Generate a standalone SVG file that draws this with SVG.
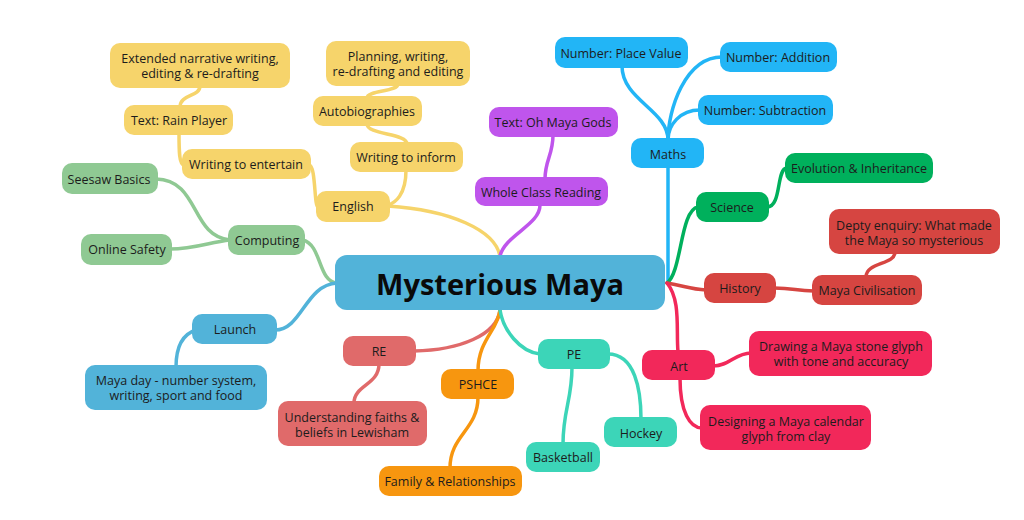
<svg xmlns="http://www.w3.org/2000/svg" width="1024" height="520" viewBox="0 0 1024 520">
<style>
text{font-family:"Open Sans","Noto Sans","Liberation Sans",sans-serif;font-size:12.5px;fill:#1c1c1c;text-anchor:middle;dominant-baseline:central}
.t{font-size:29px;font-weight:bold;fill:#0a0a0a}
#connectors path{fill:none;stroke-width:3.5;stroke-linecap:round}
.y{fill:#f6d46b}.p{fill:#bf55ec}.b{fill:#22b5f6}.g{fill:#00b05c}.r{fill:#d64541}.k{fill:#f2285a}.q{fill:#3cd5b8}.o{fill:#f7960f}.s{fill:#e06a6a}.l{fill:#52b3d9}.c{fill:#8fc993}
</style>
<rect width="1024" height="520" fill="#ffffff"/>
<g id="connectors">
<path d="M388 206 C450 210 495 230 500 256" stroke="#f6d46b"/>
<path d="M540 205 C540 225 505 235 500 256" stroke="#bf55ec"/>
<path d="M303 240 C322 245 318 282 337 283" stroke="#8fc993"/>
<path d="M275 330 C302 330 305 285 337 283" stroke="#52b3d9"/>
<path d="M668 166 L668 283" stroke="#22b5f6"/>
<path d="M698 207 C680 210 682 272 667 283" stroke="#00b05c"/>
<path d="M667 283 C685 286 690 289 706 290" stroke="#d64541"/>
<path d="M667 283 C681 300 676 330 678 352" stroke="#f2285a"/>
<path d="M414 351 C460 350 497 335 500 310" stroke="#e06a6a"/>
<path d="M478 371 C478 340 498 330 500 310" stroke="#f7960f"/>
<path d="M540 354 C520 352 503 330 500 310" stroke="#3cd5b8"/>
<path d="M722 57 C685 57 668 110 668 140" stroke="#22b5f6"/>
<path d="M700 110 C680 110 668 125 668 140" stroke="#22b5f6"/>
<path d="M622 66 C622 100 668 110 668 140" stroke="#22b5f6"/>
<path d="M767 207 C782 207 776 168 787 168" stroke="#00b05c"/>
<path d="M774 288 C795 288 795 291 814 291" stroke="#d64541"/>
<path d="M866 277 C866 262 895 265 895 252" stroke="#d64541"/>
<path d="M713 366 C730 366 735 353 751 353" stroke="#f2285a"/>
<path d="M680 378 C680 412 690 428 702 428" stroke="#f2285a"/>
<path d="M572 367 C572 400 563 410 563 444" stroke="#3cd5b8"/>
<path d="M608 354 C635 354 641 390 641 419" stroke="#3cd5b8"/>
<path d="M478 397 C478 430 450 435 450 468" stroke="#f7960f"/>
<path d="M379 364 C379 385 354 385 354 403" stroke="#e06a6a"/>
<path d="M196 330 C180 335 176 350 176 367" stroke="#52b3d9"/>
<path d="M156 179 C200 180 190 236 230 240" stroke="#8fc993"/>
<path d="M170 249 C195 249 210 242 230 240" stroke="#8fc993"/>
<path d="M309 165 C316 165 314 207 318 207" stroke="#f6d46b"/>
<path d="M406 170 C406 195 395 203 388 205" stroke="#f6d46b"/>
<path d="M367 124 C367 135 407 133 407 144" stroke="#f6d46b"/>
<path d="M398 84 C398 92 367 90 367 98" stroke="#f6d46b"/>
<path d="M179 133 C179 150 179 165 184 165" stroke="#f6d46b"/>
<path d="M200 86 C200 97 180 94 180 107" stroke="#f6d46b"/>
<path d="M553 135 C553 155 545 160 545 179" stroke="#bf55ec"/>
</g>
<g id="central"><rect x="335" y="255" width="330" height="55" rx="12" class="l"/><text x="500" y="283" class="t">Mysterious Maya</text></g>
<g id="extended"><rect x="110" y="43" width="180" height="45" rx="10" class="y"/><text x="200" y="58">Extended narrative writing,<tspan x="200" dy="15">editing &amp; re-drafting</tspan></text></g>
<g id="rain"><rect x="124" y="105" width="109" height="30" rx="10" class="y"/><text x="179" y="120">Text: Rain Player</text></g>
<g id="entertain"><rect x="182" y="149" width="129" height="30" rx="10" class="y"/><text x="246" y="164">Writing to entertain</text></g>
<g id="planning"><rect x="326" y="41" width="144" height="45" rx="10" class="y"/><text x="398" y="56">Planning, writing,<tspan x="398" dy="15">re-drafting and editing</tspan></text></g>
<g id="autobio"><rect x="313" y="96" width="109" height="30" rx="10" class="y"/><text x="367" y="111">Autobiographies</text></g>
<g id="inform"><rect x="350" y="142" width="113" height="30" rx="10" class="y"/><text x="406" y="157">Writing to inform</text></g>
<g id="english"><rect x="316" y="191" width="74" height="31" rx="10" class="y"/><text x="353" y="206">English</text></g>
<g id="ohmaya"><rect x="489" y="107" width="129" height="30" rx="10" class="p"/><text x="553" y="122">Text: Oh Maya Gods</text></g>
<g id="wholeclass"><rect x="475" y="177" width="133" height="29" rx="10" class="p"/><text x="541" y="192">Whole Class Reading</text></g>
<g id="placevalue"><rect x="555" y="37" width="133" height="31" rx="10" class="b"/><text x="621" y="53">Number: Place Value</text></g>
<g id="addition"><rect x="720" y="42" width="117" height="30" rx="10" class="b"/><text x="778" y="57">Number: Addition</text></g>
<g id="subtraction"><rect x="698" y="95" width="135" height="30" rx="10" class="b"/><text x="765" y="110">Number: Subtraction</text></g>
<g id="maths"><rect x="631" y="138" width="73" height="30" rx="10" class="b"/><text x="668" y="154">Maths</text></g>
<g id="science"><rect x="696" y="192" width="73" height="30" rx="10" class="g"/><text x="732" y="207">Science</text></g>
<g id="evolution"><rect x="785" y="153" width="148" height="30" rx="10" class="g"/><text x="859" y="168">Evolution &amp; Inheritance</text></g>
<g id="deputy"><rect x="829" y="209" width="171" height="45" rx="10" class="r"/><text x="914" y="225">Depty enquiry: What made<tspan x="914" dy="15">the Maya so mysterious</tspan></text></g>
<g id="civilisation"><rect x="812" y="275" width="110" height="30" rx="10" class="r"/><text x="867" y="290">Maya Civilisation</text></g>
<g id="history"><rect x="704" y="273" width="72" height="30" rx="10" class="r"/><text x="740" y="288">History</text></g>
<g id="art"><rect x="642" y="350" width="73" height="30" rx="10" class="k"/><text x="679" y="366">Art</text></g>
<g id="drawing"><rect x="749" y="331" width="183" height="45" rx="10" class="k"/><text x="841" y="346">Drawing a Maya stone glyph<tspan x="841" dy="15">with tone and accuracy</tspan></text></g>
<g id="designing"><rect x="700" y="405" width="171" height="45" rx="10" class="k"/><text x="786" y="421">Designing a Maya calendar<tspan x="786" dy="15">glyph from clay</tspan></text></g>
<g id="pe"><rect x="538" y="339" width="72" height="30" rx="10" class="q"/><text x="574" y="354">PE</text></g>
<g id="hockey"><rect x="604" y="417" width="73" height="30" rx="10" class="q"/><text x="641" y="433">Hockey</text></g>
<g id="basketball"><rect x="526" y="442" width="74" height="30" rx="10" class="q"/><text x="563" y="457">Basketball</text></g>
<g id="pshce"><rect x="441" y="369" width="73" height="30" rx="10" class="o"/><text x="478" y="384">PSHCE</text></g>
<g id="family"><rect x="379" y="466" width="143" height="30" rx="10" class="o"/><text x="450" y="481">Family &amp; Relationships</text></g>
<g id="re"><rect x="343" y="336" width="73" height="30" rx="10" class="s"/><text x="379" y="351">RE</text></g>
<g id="understanding"><rect x="278" y="401" width="149" height="45" rx="10" class="s"/><text x="352" y="417">Understanding faiths &amp;<tspan x="352" dy="15">beliefs in Lewisham</tspan></text></g>
<g id="launch"><rect x="192" y="314" width="85" height="30" rx="10" class="l"/><text x="235" y="329">Launch</text></g>
<g id="mayaday"><rect x="85" y="365" width="182" height="45" rx="10" class="l"/><text x="176" y="380">Maya day - number system,<tspan x="176" dy="15">writing, sport and food</tspan></text></g>
<g id="computing"><rect x="228" y="225" width="77" height="30" rx="10" class="c"/><text x="267" y="240">Computing</text></g>
<g id="seesaw"><rect x="62" y="163" width="96" height="31" rx="10" class="c"/><text x="109" y="179">Seesaw Basics</text></g>
<g id="online"><rect x="81" y="234" width="91" height="31" rx="10" class="c"/><text x="127" y="249">Online Safety</text></g>
</svg>
